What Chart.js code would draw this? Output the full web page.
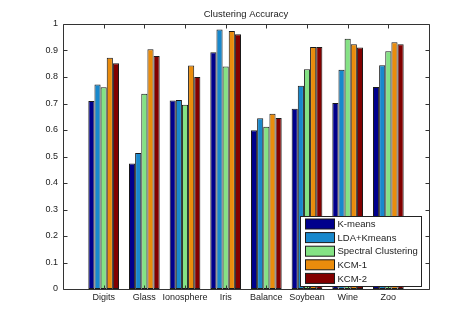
<!DOCTYPE html>
<html>
<head>
<meta charset="utf-8">
<script src="https://cdn.jsdelivr.net/npm/chart.js@4/dist/chart.umd.min.js"></script>
<style>
  html, body { margin: 0; padding: 0; background: #fff; }
  #wrap { width: 474px; height: 324px; }
</style>
</head>
<body>
<div id="wrap"><canvas id="c" width="474" height="324"></canvas></div>
<script>
// Datasets (benchmark names) and clustering accuracy per method
const datasetNames = ['Digits', 'Glass', 'Ionosphere', 'Iris', 'Balance', 'Soybean', 'Wine', 'Zoo'];
const methodNames = ['K-means', 'LDA+Kmeans', 'Spectral Clustering', 'KCM-1', 'KCM-2'];

const kmeans     = [0.709, 0.474, 0.711, 0.893, 0.599, 0.680, 0.702, 0.762];
const ldaKmeans  = [0.772, 0.513, 0.713, 0.979, 0.644, 0.767, 0.827, 0.844];
const spectral   = [0.761, 0.737, 0.695, 0.840, 0.612, 0.829, 0.944, 0.897];
const kcm1       = [0.873, 0.905, 0.843, 0.974, 0.661, 0.913, 0.924, 0.931];
const kcm2       = [0.852, 0.879, 0.800, 0.961, 0.645, 0.913, 0.911, 0.924];

const yTickLabels = ['0', '0.1', '0.2', '0.3', '0.4', '0.5', '0.6', '0.7', '0.8', '0.9', '1'];

const seriesValues = [kmeans, ldaKmeans, spectral, kcm1, kcm2];
const seriesColors = ['#00008c', '#1888cc', '#84e284', '#ea8c0c', '#820000'];

const FONT = '"Liberation Sans", Arial, Helvetica, sans-serif';
const INK = '#222';

// The x range runs one unit beyond the first and last dataset, so pad the labels
const xLabels = [''].concat(datasetNames, ['']);
const pad = arr => [null].concat(arr, [null]);

const datasets = methodNames.map((name, i) => ({
  label: name,
  data: pad(seriesValues[i]),
  backgroundColor: seriesColors[i],
  borderColor: '#1a1a1a',
  borderWidth: 1,
  borderSkipped: false,
  categoryPercentage: 0.755,
  barPercentage: 1.0
}));

// Boxed axes with inward tick marks, title above the plot, legend in the lower right
const frame = {
  id: 'frame',
  afterDatasetsDraw(chart) {
    const ctx = chart.ctx;
    const a = chart.chartArea;
    const xs = chart.scales.x, ys = chart.scales.y;
    ctx.save();
    ctx.strokeStyle = '#333';
    ctx.lineWidth = 1;
    const L = Math.round(a.left) + 0.5, R = Math.round(a.right) + 0.5;
    const T = Math.round(a.top) + 0.5, B = Math.round(a.bottom) + 0.5;
    ctx.beginPath();
    ctx.rect(L, T, R - L, B - T);
    const tl = 4;
    for (let i = 1; i <= datasetNames.length; i++) {
      const x = Math.round(xs.getPixelForValue(i)) + 0.5;
      ctx.moveTo(x, B); ctx.lineTo(x, B - tl);
      ctx.moveTo(x, T); ctx.lineTo(x, T + tl);
    }
    yTickLabels.forEach((_, i) => {
      const y = Math.round(ys.getPixelForValue(i / 10)) + 0.5;
      ctx.moveTo(L, y); ctx.lineTo(L + tl, y);
      ctx.moveTo(R, y); ctx.lineTo(R - tl, y);
    });
    ctx.stroke();

    // title
    ctx.fillStyle = INK;
    ctx.font = '9.5px ' + FONT;
    ctx.textAlign = 'center';
    ctx.textBaseline = 'middle';
    ctx.fillText('Clustering Accuracy', (a.left + a.right) / 2, 14);

    // legend
    const lx = 300.5, ly = 216.5, lw = 121, lh = 70;
    ctx.fillStyle = '#fff';
    ctx.fillRect(lx, ly, lw, lh);
    ctx.strokeStyle = '#222';
    ctx.strokeRect(lx, ly, lw, lh);
    ctx.textAlign = 'left';
    chart.data.datasets.forEach((ds, i) => {
      const sy = ly + 2.5 + i * 13.6;
      ctx.fillStyle = ds.backgroundColor;
      ctx.fillRect(lx + 5, sy, 29, 10);
      ctx.strokeStyle = '#1a1a1a';
      ctx.strokeRect(lx + 5, sy, 29, 10);
      ctx.fillStyle = INK;
      ctx.fillText(ds.label, lx + 37, sy + 5.5);
    });
    ctx.restore();
  }
};

new Chart(document.getElementById('c'), {
  type: 'bar',
  data: { labels: xLabels, datasets },
  options: {
    responsive: false,
    animation: false,
    layout: { padding: { top: 24, right: 45, left: 0, bottom: 0 } },
    plugins: {
      legend: { display: false },
      title: { display: false },
      tooltip: { enabled: false }
    },
    scales: {
      x: {
        type: 'category',
        offset: false,
        grid: { display: false, drawTicks: false },
        border: { display: false },
        ticks: {
          autoSkip: false,
          maxRotation: 0,
          padding: 3,
          color: INK,
          font: { family: FONT, size: 9 }
        },
        afterFit(scale) { scale.height = 35; }
      },
      y: {
        min: 0,
        max: 1,
        grid: { display: false, drawTicks: false },
        border: { display: false },
        ticks: {
          stepSize: 0.1,
          padding: 5,
          color: INK,
          font: { family: FONT, size: 9 },
          callback: (v) => yTickLabels[Math.round(v * 10)]
        },
        afterFit(scale) { scale.width = 63; }
      }
    }
  },
  plugins: [frame]
});
</script>
</body>
</html>
